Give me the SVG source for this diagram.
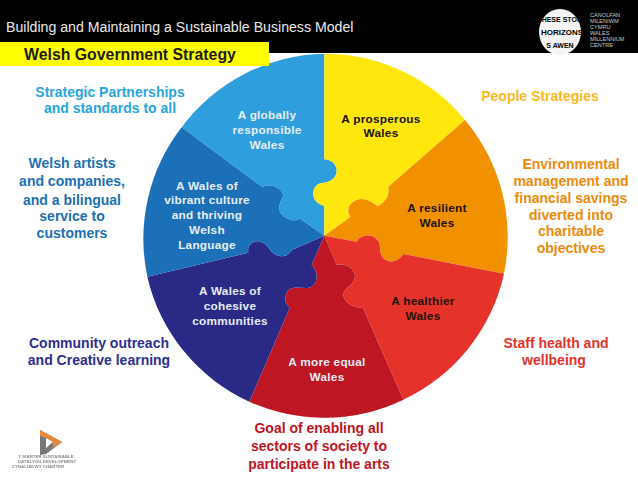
<svg xmlns="http://www.w3.org/2000/svg" width="638" height="479" viewBox="0 0 638 479">
<defs>
<style>
text{font-family:"Liberation Sans",Arial,sans-serif}
.s{font-size:14px;font-weight:bold;text-anchor:middle}
.w{font-size:11.8px;font-weight:bold;text-anchor:middle;letter-spacing:.25px}
.lt{fill:#e6edf4}
.dk{fill:#1c1408}
.lg{font-size:5.6px;fill:#c9c9c9}
.ch{font-size:4.4px;font-weight:bold;fill:#8a8a8a;text-anchor:middle}
</style>
<filter id="soft" x="-5%" y="-5%" width="110%" height="110%"><feGaussianBlur stdDeviation="0.5"/></filter>
<clipPath id="mc"><ellipse cx="560" cy="32" rx="21" ry="23"/></clipPath>
</defs>
<rect width="638" height="479" fill="#fff"/>
<g id="wheel" filter="url(#soft)">
<g transform="translate(140 70) scale(.33333)">
<path id="seg-global" fill="#2f9fdc" d="M553,-49 L553,268 C575,268 592,285 590,305 C588,325 570,335 553,338 C530,338 518,355 520,375 C522,395 540,405 553,407 L553,497 L478,445 C465,460 425,445 418,420 C415,405 425,390 430,375 C420,345 380,342 368,352 L125,172 A546,546 0 0 1 553,-49Z"/>
<path id="seg-prosperous" fill="#ffe60f" d="M553,-49 A546,546 0 0 1 975,150 L745,350 C750,375 735,400 712,408 C695,395 670,380 650,390 C625,400 618,425 632,440 L553,497 L553,407 C540,405 522,395 520,375 C518,355 530,338 553,338 C570,335 588,325 590,305 C592,285 575,268 553,268Z"/>
<path id="seg-resilient" fill="#f29100" d="M975,150 A546,546 0 0 1 1092,611 L790,552 C780,570 750,585 730,565 C715,550 725,520 712,510 C695,488 660,495 650,515 L553,497 L632,440 C618,425 625,400 650,390 C670,380 695,395 712,408 C735,400 750,375 745,350Z"/>
<path id="seg-healthier" fill="#e5322b" d="M1092,611 A546,546 0 0 1 790,989 L668,712 C640,715 610,695 610,675 C612,650 640,650 645,620 C645,590 610,580 590,585 L553,497 L650,515 C660,495 695,488 712,510 C725,520 715,550 730,565 C750,585 780,570 790,552Z"/>
<path id="seg-equal" fill="#be1622" d="M790,989 A546,546 0 0 1 328,995 L450,712 C435,705 430,680 445,660 C465,645 500,660 515,650 C540,630 530,600 515,585 L553,497 L590,585 C610,580 645,590 645,620 C640,650 612,650 610,675 C610,695 640,715 668,712Z"/>
<path id="seg-cohesive" fill="#2b2a86" d="M328,995 A546,546 0 0 1 22,620 L325,548 C320,525 340,510 360,515 C385,520 390,545 400,550 C420,565 445,560 455,540 L553,497 L515,585 C530,600 540,630 515,650 C500,660 465,645 445,660 C430,680 435,705 450,712Z"/>
<path id="seg-culture" fill="#1b6fb8" d="M22,620 A546,546 0 0 1 125,172 L368,352 C380,342 420,345 430,375 C425,390 415,405 418,420 C425,445 465,460 478,445 L553,497 L455,540 C445,560 420,565 400,550 C390,545 385,520 360,515 C340,510 320,525 325,548Z"/>
</g>
</g>
<g id="wheel-labels">
<text class="w lt" x="267" y="119">A globally</text><text class="w lt" x="267" y="134">responsible</text><text class="w lt" x="267" y="149">Wales</text>
<text class="w dk" x="381" y="123">A prosperous</text><text class="w dk" x="381" y="137">Wales</text>
<text class="w dk" x="437" y="212">A resilient</text><text class="w dk" x="437" y="227">Wales</text>
<text class="w dk" x="423" y="305">A healthier</text><text class="w dk" x="423" y="320">Wales</text>
<text class="w lt" x="327" y="366">A more equal</text><text class="w lt" x="327" y="381">Wales</text>
<text class="w lt" x="230" y="295">A Wales of</text><text class="w lt" x="230" y="310">cohesive</text><text class="w lt" x="230" y="325">communities</text>
<text class="w lt" x="207" y="190">A Wales of</text><text class="w lt" x="207" y="204">vibrant culture</text><text class="w lt" x="207" y="219">and thriving</text><text class="w lt" x="207" y="234">Welsh</text><text class="w lt" x="207" y="249">Language</text>
</g>
<g id="header">
<rect width="638" height="53" fill="#000"/>
<text x="6" y="32" font-size="14.15" fill="#e8e8e8">Building and Maintaining a Sustainable Business Model</text>
</g>
<g id="strategy-banner">
<rect x="0" y="42" width="269" height="24" fill="#ffff00"/>
<text x="24" y="60" font-size="15.85" font-weight="bold" fill="#1c1c10">Welsh Government Strategy</text>
</g>
<g id="logo-mc">
<ellipse cx="560" cy="32" rx="21" ry="23" fill="#f4f4f4"/>
<g clip-path="url(#mc)">
<text x="562" y="22" font-size="7" font-weight="bold" text-anchor="middle" fill="#000">THESE STONE</text>
<text x="558" y="35" font-size="8" font-weight="bold" text-anchor="middle" fill="#000">R HORIZONS</text>
<text x="560" y="48" font-size="7" font-weight="bold" text-anchor="middle" fill="#000">S AWEN</text>
</g>
<text class="lg" x="590" y="17">CANOLFAN</text><text class="lg" x="590" y="23">MILENIWM</text><text class="lg" x="590" y="29">CYMRU</text><text class="lg" x="590" y="35">WALES</text><text class="lg" x="590" y="41">MILLENNIUM</text><text class="lg" x="590" y="47">CENTRE</text>
</g>
<g id="label-partnerships" fill="#29a5df"><text class="s" x="110" y="97">Strategic Partnerships</text><text class="s" x="110" y="113">and standards to all</text></g>
<g id="label-artists" fill="#1d6fb5"><text class="s" x="72" y="168">Welsh artists</text><text class="s" x="72" y="186">and companies,</text><text class="s" x="72" y="205">and a bilingual</text><text class="s" x="72" y="221">service to</text><text class="s" x="72" y="238">customers</text></g>
<g id="label-community" fill="#2e2f8f"><text class="s" x="99" y="348">Community outreach</text><text class="s" x="99" y="365">and Creative learning</text></g>
<g id="label-people" fill="#fbb81d"><text class="s" x="540" y="101">People Strategies</text></g>
<g id="label-environment" fill="#ee8a0a"><text class="s" x="571" y="169">Environmental</text><text class="s" x="571" y="186">management and</text><text class="s" x="571" y="203">financial savings</text><text class="s" x="571" y="220">diverted into</text><text class="s" x="571" y="236">charitable</text><text class="s" x="571" y="253">objectives</text></g>
<g id="label-staff" fill="#e5322b"><text class="s" x="556" y="348">Staff health and</text><text class="s" x="554" y="365">wellbeing</text></g>
<g id="label-goal" fill="#c0141f"><text class="s" x="319" y="433">Goal of enabling all</text><text class="s" x="319" y="451">sectors of society to</text><text class="s" x="319" y="469">participate in the arts</text></g>
<g id="logo-charter" filter="url(#soft)">
<path d="M40 430 L62 442 L46 454 L40 455Z" fill="#77777c"/>
<path d="M40 430 L62 442 L53 448 L53 442 L46 438 L40 436Z" fill="#e8853a"/>
<path d="M46 438 L53 442 L46 448Z" fill="#fff"/>
<text class="ch" x="46" y="458">Y SIARTER SUSTAINABLE</text>
<text class="ch" x="47" y="463">DATBLYGU DEVELOPMENT</text>
<text class="ch" x="38" y="468">CYNALIADWY CHARTER</text>
</g>
</svg>
